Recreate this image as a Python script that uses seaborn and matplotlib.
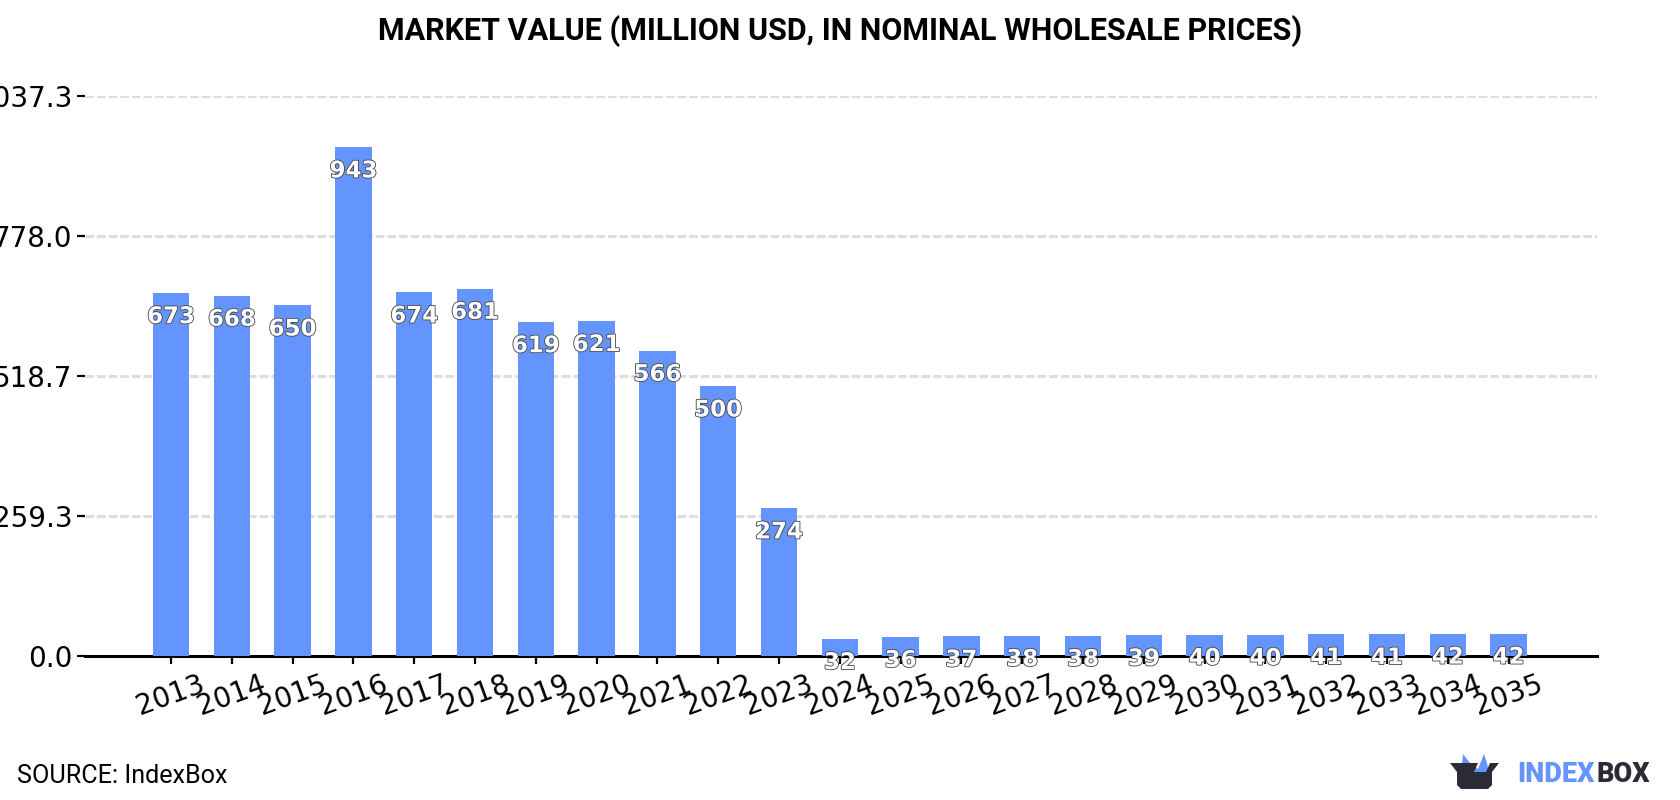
import matplotlib
matplotlib.use("Agg")
import matplotlib.pyplot as plt
import matplotlib.patheffects as pe
from matplotlib.patches import Polygon
import pandas as pd
import seaborn as sns

years = list(range(2013, 2036))
values = [673, 668, 650, 943, 674, 681, 619, 621, 566, 500, 274,
          32, 36, 37, 38, 38, 39, 40, 40, 41, 41, 42, 42]
y_ticks = [0.0, 259.3, 518.7, 778.0, 1037.3]
title = "MARKET VALUE (MILLION USD, IN NOMINAL WHOLESALE PRICES)"
source = "SOURCE: IndexBox"

BLUE = "#6495FF"
DARK = "#2A2B36"

sns.set_theme(style="white")
plt.rcParams["font.family"] = ["DejaVu Sans"]

df = pd.DataFrame({"year": years, "value": values})

W, H = 1680, 800
fig = plt.figure(figsize=(W / 100, H / 100), dpi=100, facecolor="white")
ax = fig.add_axes([85 / W, 1 - 656.2 / H, (1597 - 85) / W, 559.8 / H])

sns.barplot(data=df, x="year", y="value", color=BLUE, saturation=1, width=0.6,
            linewidth=0, ax=ax, zorder=3)

ax.set_xlim((85 - 171) / 60.8, (1597 - 171) / 60.8)
ax.set_ylim(0, 1037.3)
ax.set_xlabel("")
ax.set_ylabel("")
ax.set_yticks(y_ticks)
ax.set_yticklabels([f"{v:.1f}" for v in y_ticks], fontsize=20, color="black")
ax.set_xticks(range(len(years)))
ax.set_xticklabels(years, fontsize=20, rotation=20, color="black", ha="center")
ax.tick_params(axis="x", length=6, width=1.6, color="black", bottom=True, pad=4)
ax.tick_params(axis="y", length=6, width=1.6, color="black", left=True, pad=3)
ax.yaxis.grid(True, color="#DDDDDD", linestyle=(0, (2.8, 1)), linewidth=2.2, zorder=0)
ax.set_axisbelow(True)
for name in ("top", "right", "left"):
    ax.spines[name].set_visible(False)
ax.spines["bottom"].set_color("black")
ax.spines["bottom"].set_linewidth(2.2)

# value labels sit just under each bar's top edge
for i, v in enumerate(values):
    ax.annotate(str(v), (i, v), xytext=(0, -17), textcoords="offset points",
                ha="center", va="center", fontsize=16.5, fontweight="bold", color="white",
                zorder=5, annotation_clip=False,
                path_effects=[pe.withStroke(linewidth=1.2, foreground="#444444")])

fig.text(0.5 * 1680 / W, 1 - 31 / H, title, ha="center", va="center",
         fontsize=22, fontweight="bold", family="Roboto", color="black")
fig.text(17 / W, 1 - 776 / H, source, ha="left", va="center", fontsize=18.1,
         family="Roboto", color="black")

# brand mark in the lower right corner
def px(points):
    return [(x / W, 1 - y / H) for x, y in points]

fig.add_artist(Polygon(px([(1461, 775), (1463, 754), (1470, 763), (1478, 769),
                           (1484, 754), (1487, 763), (1489, 773)]),
                       closed=True, transform=fig.transFigure, facecolor=BLUE, edgecolor="none"))
fig.add_artist(Polygon(px([(1450, 763), (1478, 763), (1474, 772), (1486, 772), (1490, 763),
                           (1499, 763), (1492, 772), (1492, 785), (1488, 789),
                           (1461, 789), (1457, 785), (1457, 772)]),
                       closed=True, transform=fig.transFigure, facecolor=DARK, edgecolor="none"))
fig.text(1517 / W, 1 - 774.5 / H, "INDEX", ha="left", va="center", fontsize=19.5,
         fontweight="black", family="Roboto", color=BLUE)
fig.text(1597 / W, 1 - 774.5 / H, "BOX", ha="left", va="center", fontsize=19.5,
         fontweight="black", family="Roboto", color=DARK)

fig.savefig("out.png", dpi=100, facecolor="white")
